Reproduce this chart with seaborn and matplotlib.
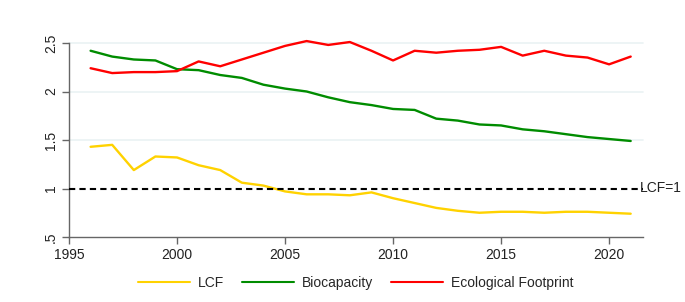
import pandas as pd
import numpy as np
import matplotlib
matplotlib.use("Agg")
import matplotlib.pyplot as plt
import seaborn as sns

# ── data ─────────────────────────────────────────────────────
years = list(range(1996, 2022))
lcf = [1.43, 1.45, 1.19, 1.33, 1.32, 1.24, 1.19, 1.06, 1.03, 0.97,
       0.94, 0.94, 0.93, 0.96, 0.90, 0.85, 0.80, 0.77, 0.75, 0.76,
       0.76, 0.75, 0.76, 0.76, 0.75, 0.74]
biocap = [2.42, 2.36, 2.33, 2.32, 2.23, 2.22, 2.17, 2.14, 2.07, 2.03,
          2.00, 1.94, 1.89, 1.86, 1.82, 1.81, 1.72, 1.70, 1.66, 1.65,
          1.61, 1.59, 1.56, 1.53, 1.51, 1.49]
footprint = [2.24, 2.19, 2.20, 2.20, 2.21, 2.31, 2.26, 2.33, 2.40, 2.47,
             2.52, 2.48, 2.51, 2.42, 2.32, 2.42, 2.40, 2.42, 2.43, 2.46,
             2.37, 2.42, 2.37, 2.35, 2.28, 2.36]
series = ["LCF", "Biocapacity", "Ecological Footprint"]
colors = ["#FFD200", "#008C00", "#FF0000"]
yticks = [0.5, 1, 1.5, 2, 2.5]
ytick_labels = [".5", "1", "1.5", "2", "2.5"]
xticks = [1995, 2000, 2005, 2010, 2015, 2020]

df = pd.DataFrame({"year": years, "LCF": lcf, "Biocapacity": biocap,
                   "Ecological Footprint": footprint})
long = df.melt(id_vars="year", var_name="series", value_name="value")

# ── style ────────────────────────────────────────────────────
sns.set_style("white")
plt.rcParams["font.family"] = ["Liberation Sans", "DejaVu Sans"]

fig = plt.figure(figsize=(6.85, 3.02), dpi=100)
ax = fig.add_axes([69 / 685, 1 - 237 / 302, (643 - 69) / 685, (237 - 43) / 302])

for y in [1.5, 2, 2.5]:
    ax.axhline(y, color="#eaf2f3", lw=1.2, zorder=0)

sns.lineplot(data=long, x="year", y="value", hue="series", hue_order=series,
             palette=colors, linewidth=1.7, ax=ax)
for line in ax.get_lines():
    line.set_clip_on(False)

ax.axhline(1, color="black", lw=1.5, ls=(0, (3, 2)), zorder=3)
ax.annotate("LCF=1", xy=(1.0, 1), xycoords=("axes fraction", "data"),
            xytext=(-2, 0), textcoords="offset points", ha="left", va="center",
            fontsize=10, color="#222222", annotation_clip=False)

ax.set_xlim(1995, 2021.57)
ax.set_ylim(0.5, 2.5)
ax.set_xticks(xticks)
ax.set_xticklabels([str(x) for x in xticks], fontsize=10, color="#222222")
ax.set_yticks(yticks)
ax.set_yticklabels(ytick_labels, fontsize=10, color="#222222", rotation=90, va="center")
ax.set_xlabel("")
ax.set_ylabel("")

for side in ["top", "right"]:
    ax.spines[side].set_visible(False)
for side in ["left", "bottom"]:
    ax.spines[side].set_color("#666666")
    ax.spines[side].set_linewidth(1.0)
ax.tick_params(axis="both", direction="out", length=5, width=1.0, color="#666666",
               left=True, bottom=True, pad=3)

sns.move_legend(ax, "center", bbox_to_anchor=(0.5, -0.237), ncol=3, title=None,
                frameon=False, fontsize=10, handlelength=3.7, handletextpad=0.6,
                columnspacing=1.3)
for line in ax.get_legend().get_lines():
    line.set_linewidth(1.5)

plt.savefig("out.png", dpi=100)
plt.close()
